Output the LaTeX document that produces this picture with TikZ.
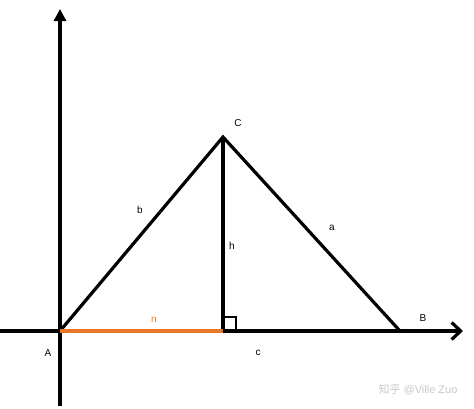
\documentclass[tikz,border=0pt]{standalone}
\usepackage{fontspec}
\setmainfont{Liberation Sans}
\newfontfamily\cjk{Noto Sans CJK SC}
\usetikzlibrary{arrows.meta}
\definecolor{segorange}{RGB}{232,120,40}
\definecolor{wmgray}{RGB}{200,200,200}
\begin{document}
\begin{tikzpicture}[x=1pt,y=-1pt,
  line/.style={line width=3.2pt,black},
  lbl/.style={font=\fontsize{10}{12}\selectfont,inner sep=0pt}]
\useasboundingbox (0,0) rectangle (474,408);
% points
\coordinate (A) at (60,331);
\coordinate (B) at (400,331);
\coordinate (C) at (223,137);
\coordinate (H) at (223,331);
\coordinate (xs) at (0,331);
\coordinate (xe) at (463,331);
\coordinate (ys) at (60,406);
\coordinate (ye) at (60,9);
% axes
\draw[line,-{Straight Barb[length=9pt,width=17pt,line width=3.2pt]}] (xs) -- (xe);
\draw[line,-{Triangle[length=12pt,width=12pt]}] (ys) -- (ye);
% triangle
\draw[line,line join=miter] (A) -- (C) -- (B);
\draw[line] (C) -- (H);
\draw[line width=3.2pt,segorange] (A) -- (H);
\draw[line width=2.2pt] (H) ++(0,-14) -| ++(13,14);
% labels
\node[lbl] (lA) at (48,353) {A};
\node[lbl] (lB) at (423,318) {B};
\node[lbl] (lC) at (238,123) {C};
\node[lbl] (la) at (332,228) {a};
\node[lbl] (lb) at (140,210) {b};
\node[lbl] (lc) at (258,353) {c};
\node[lbl] (lh) at (232,246) {h};
\node[lbl,segorange] (ln) at (154,320) {n};
\node[lbl,wmgray,font=\fontsize{11}{13}\selectfont] (wm) at (418,390) {{\cjk 知乎} @Ville Zuo};
\end{tikzpicture}
\end{document}
